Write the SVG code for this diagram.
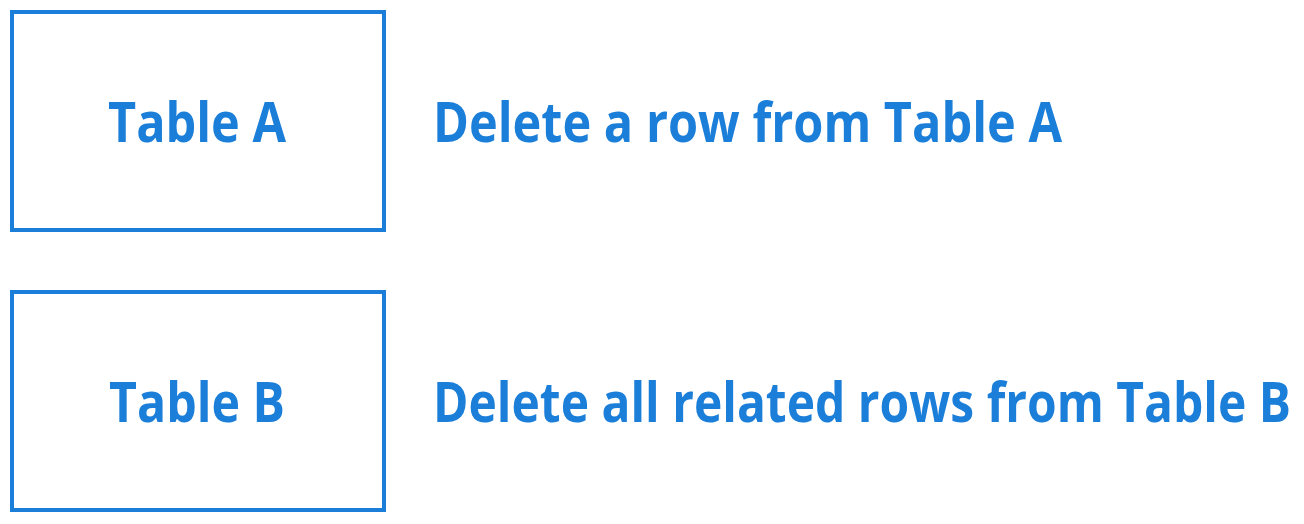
<svg xmlns="http://www.w3.org/2000/svg" width="1304" height="524" viewBox="0 0 1304 524">
<style>
.box{fill:#fff;stroke:#1b7fd9;stroke-width:4}
.t{font-family:"Open Sans","DejaVu Sans",sans-serif;font-weight:bold;font-size:56px;fill:#1b7fd9}
</style>
<rect width="1304" height="524" fill="#fff"/>
<g id="tableA">
<rect class="box" x="12" y="12" width="372" height="218"/>
<text class="t" x="108" y="142" textLength="178" lengthAdjust="spacingAndGlyphs">Table A</text>
</g>
<g id="tableB">
<rect class="box" x="12" y="292" width="372" height="218"/>
<text class="t" x="109" y="422" textLength="176" lengthAdjust="spacingAndGlyphs">Table B</text>
</g>
<g id="labelA">
<text class="t" x="433" y="142" textLength="629" lengthAdjust="spacingAndGlyphs">Delete a row from Table A</text>
</g>
<g id="labelB">
<text class="t" x="433" y="422" textLength="858" lengthAdjust="spacingAndGlyphs">Delete all related rows from Table B</text>
</g>
<g id="connectors"/>
</svg>
